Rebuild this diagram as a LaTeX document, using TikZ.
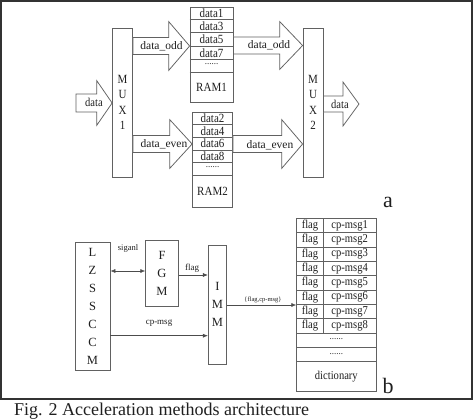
\documentclass[tikz,border=0pt]{standalone}
\usepackage{fontspec}
\setmainfont{Liberation Serif}
\newfontfamily\condf[FakeStretch=0.88]{Liberation Serif}
\usetikzlibrary{arrows.meta,calc}
\newcommand\fsz[2]{\fontsize{#1}{#2}\selectfont}
% block arrow: #1 tail point, #2 tip point, #3 centre y, #4 shaft half height, #5 head half height, #6 head length
\newcommand\blockarr[6]{%
  \draw[barrow] (#1 |- 0,{#3-#4}) -- ($(#2 |- 0,{#3-#4})+(-#6,0)$) -- ($(#2 |- 0,{#3-#5})+(-#6,0)$)
    -- (#2 |- 0,#3) -- ($(#2 |- 0,{#3+#5})+(-#6,0)$) -- ($(#2 |- 0,{#3+#4})+(-#6,0)$) -- (#1 |- 0,{#3+#4}) -- cycle;}
\tikzset{
  ln/.style={draw=black!62, line width=0.75pt},
  box/.style={ln, rectangle, inner sep=0pt, fill=white},
  barrow/.style={ln, fill=white, line join=miter},
  txt/.style={inner sep=0pt, text=black!88},
  arr/.style={draw=black!70, line width=0.6pt, -{Latex[length=5pt,width=4pt]}},
  arrb/.style={draw=black!70, line width=0.6pt, {Latex[length=5pt,width=4pt]}-{Latex[length=5pt,width=4pt]}},
  frame/.style={draw=black!80, line width=2.3pt},
}
\begin{document}
\begin{tikzpicture}[x=1pt,y=-1pt]
\useasboundingbox (0,0) rectangle (474,420);
\fill[white] (0,0) rectangle (474,420);

% ---------- part a ----------
\node[box, minimum width=20pt, minimum height=149pt] (mux1) at (122.5,102.5) {};
\node[box, minimum width=20pt, minimum height=149pt] (mux2) at (313,102.5) {};
\node[box, minimum width=43pt, minimum height=95pt] (ram1) at (211.5,54.5) {};
\node[box, minimum width=40pt, minimum height=95pt] (ram2) at (212.5,159.5) {};
\foreach \yy in {19.5,32.5,46.5,59.5,72}
  \draw[ln] (ram1.west |- 0,\yy) -- (ram1.east |- 0,\yy);
\foreach \yy in {124.5,137,150,162,175}
  \draw[ln] (ram2.west |- 0,\yy) -- (ram2.east |- 0,\yy);

\coordinate (din) at (76,0);
\coordinate (dout) at (359,0);
\blockarr{din}{mux1.west}{103}{9}{22.5}{15.5}
\blockarr{mux1.east}{ram1.west}{46}{8.5}{24.5}{21}
\blockarr{mux1.east}{ram2.west}{144}{8.5}{24.5}{22.5}
\blockarr{ram1.east}{mux2.west}{45.5}{8.5}{24}{23}
\blockarr{ram2.east}{mux2.west}{144}{8.5}{24.5}{21}
\blockarr{mux2.east}{dout}{104}{8}{22}{16}

\node[txt, font=\condf\fsz{12.5}{15.6}, align=center] (mux1t) at (mux1) {M\\U\\X\\1};
\node[txt, font=\condf\fsz{12.5}{15.6}, align=center] (mux2t) at (mux2) {M\\U\\X\\2};
\foreach \t/\yy [count=\i] in {data1/13.25, data3/26, data5/39.5, data7/53, RAM1/87}
  \node[txt, font=\condf\fsz{12.5}{12}] (ramA\i) at (ram1.center |- 0,\yy) {\t};
\node[txt, font=\fsz{9}{9}] (ramAd) at (ram1.center |- 0,64.5) {......};
\foreach \t/\yy [count=\i] in {data2/118.25, data4/130.75, data6/143.5, data8/156, RAM2/191}
  \node[txt, font=\condf\fsz{12.5}{12}] (ramB\i) at (ram2.center |- 0,\yy) {\t};
\node[txt, font=\fsz{9}{9}] (ramBd) at (ram2.center |- 0,167.5) {......};

\node[txt, font=\condf\fsz{12}{12}] (ldin) at (94,102) {data};
\node[txt, font=\fsz{11.5}{12}] (lodd1) at (161.5,46.5) {data\_odd};
\node[txt, font=\fsz{11.5}{12}] (leven1) at (164,144) {data\_even};
\node[txt, font=\fsz{11.5}{12}] (lodd2) at (269,45) {data\_odd};
\node[txt, font=\fsz{11.5}{12}] (leven2) at (270,145) {data\_even};
\node[txt, font=\condf\fsz{12}{12}] (ldout) at (340,104) {data};
\node[txt, font=\fsz{22}{22}] (la) at (388,202.5) {a};

% ---------- part b ----------
\node[box, minimum width=35pt, minimum height=127.7pt] (lz) at (92.5,306.2) {};
\node[txt, font=\fsz{12.5}{18}, align=center] (lzt) at (lz) {L\\Z\\S\\S\\C\\C\\M};
\node[box, minimum width=32.6pt, minimum height=66.7pt] (fgm) at (162,273.3) {};
\node[txt, font=\fsz{12.5}{18.3}, align=center] (fgmt) at (fgm) {F\\G\\M};
\node[box, minimum width=18.4pt, minimum height=119pt] (imm) at (217.5,304.5) {};
\node[txt, font=\fsz{12.5}{17.8}, align=center] (immt) at (imm) {I\\M\\M};

\node[box, minimum width=79.3pt, minimum height=173.4pt] (dict) at (336.35,305) {};
\foreach \k in {1,...,10}
  \draw[ln] (dict.west |- 0,{218.3+14.35*\k}) -- (dict.east |- 0,{218.3+14.35*\k});
\coordinate (dv1) at (323.3,218.3);
\coordinate (dv2) at (323.3,333.1);
\draw[ln] (dv1) -- (dv2);
\foreach \k in {1,...,8} {
  \node[txt, font=\condf\fsz{12}{12}] (fl\k) at (310,{218.3+14.35*(\k-0.5)}) {flag};
  \node[txt, font=\condf\fsz{12}{12}] (cm\k) at (349.65,{218.3+14.35*(\k-0.5)}) {cp-msg\k};
}
\node[txt, font=\fsz{9}{9}] (dots1) at (336.35,{218.3+14.35*8.5-1}) {......};
\node[txt, font=\fsz{9}{9}] (dots2) at (336.35,{218.3+14.35*9.5-1}) {......};
\node[txt, font=\condf\fsz{12}{12}] (dictt) at (336.35,376.75) {dictionary};

\draw[arrb] (lz.east |- 0,271) -- (fgm.west |- 0,271);
\draw[arr] (fgm.east |- 0,275) -- (imm.west |- 0,275);
\draw[arr] (lz.east |- 0,335.7) -- (imm.west |- 0,335.7);
\draw[arr] (imm.east |- 0,305) -- (dict.west |- 0,305);

\node[txt, font=\fsz{8.5}{9}] (lsig) at (128,248) {siganl};
\node[txt, font=\fsz{9}{9}] (lflag) at (192,268.3) {flag};
\node[txt, font=\fsz{9}{9}] (lcp) at (159,323) {cp-msg};
\node[txt, font=\fsz{6.5}{7}] (lfc) at (263,299.5) {\{flag,cp-msg\}};
\node[txt, font=\fsz{22}{22}] (lb) at (388,386) {b};

% ---------- frame and caption ----------
\draw[frame] (1.3,1) rectangle (472.3,398.8);
\node[txt, font=\fsz{18}{18}, anchor=base west] (cap) at (14,415) {Fig. 2 Acceleration methods architecture};
\end{tikzpicture}
\end{document}
